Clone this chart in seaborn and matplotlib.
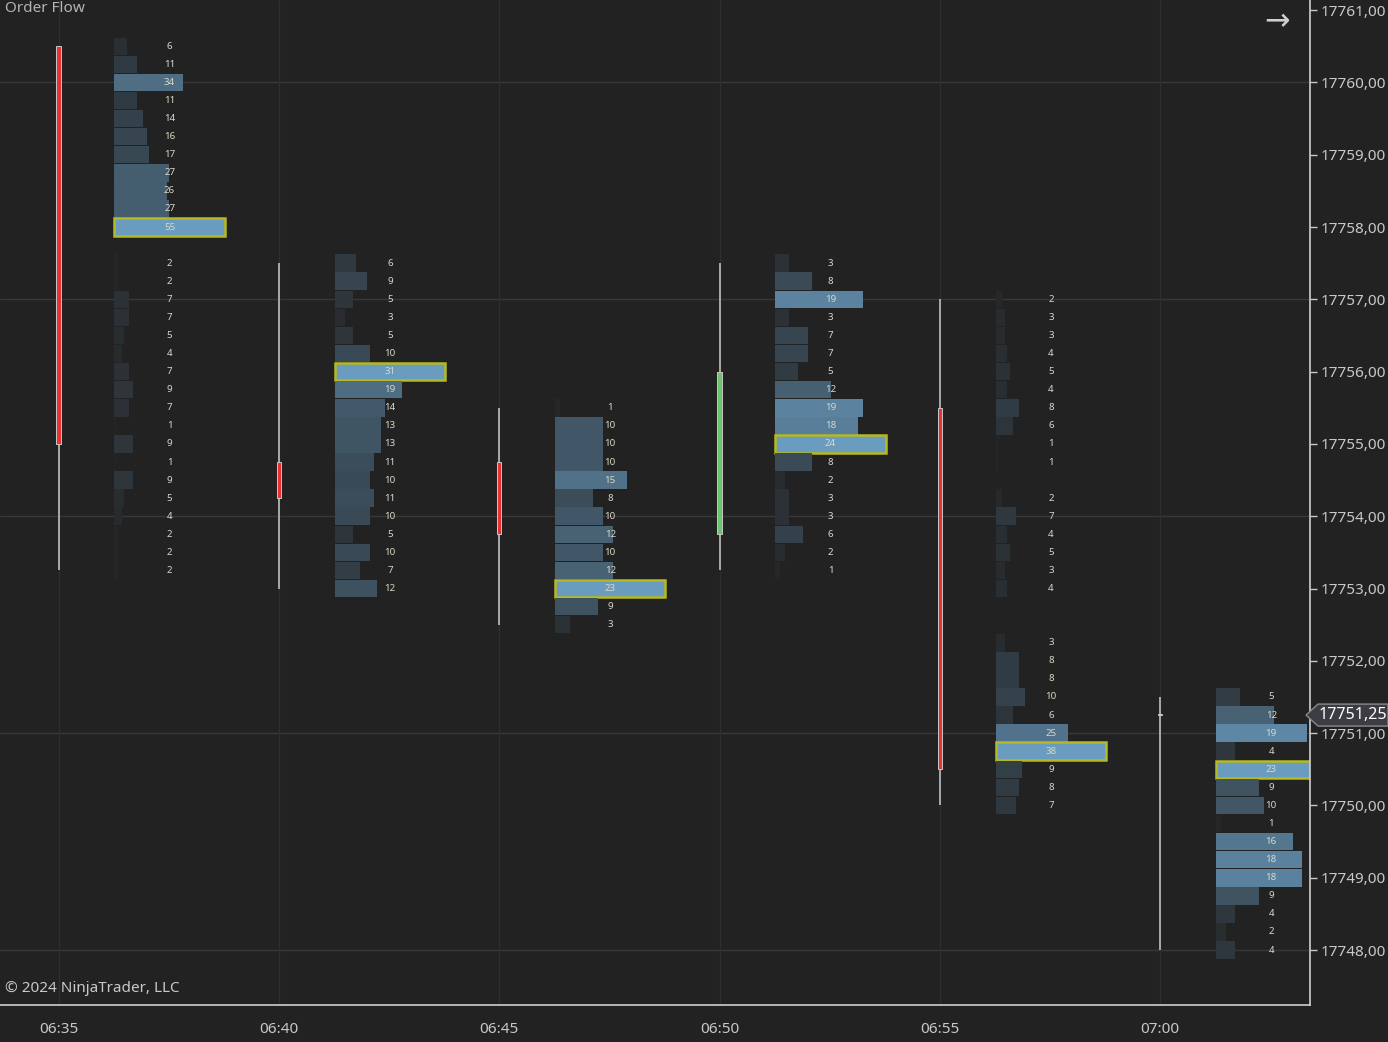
import numpy as np
import pandas as pd
import seaborn as sns
import matplotlib.pyplot as plt
import matplotlib.transforms as mtransforms
from matplotlib.patches import Polygon
from matplotlib.ticker import FixedLocator, FuncFormatter

# ---- data -------------------------------------------------------------
TICK = 0.25
bar_times = ["06:35", "06:40", "06:45", "06:50", "06:55", "07:00"]
opens = [17760.50, 17754.75, 17754.75, 17753.75, 17755.50, 17751.25]
highs = [17760.50, 17757.50, 17755.50, 17757.50, 17757.00, 17751.50]
lows = [17753.25, 17753.00, 17752.50, 17753.25, 17750.00, 17748.00]
closes = [17755.00, 17754.25, 17753.75, 17756.00, 17750.50, 17751.25]

# volume at price, listed from the top price of each bar downwards (0 = no trades)
profile_tops = [17760.50, 17757.50, 17755.50, 17757.50, 17757.00, 17751.50]
vol_0635 = [6, 11, 34, 11, 14, 16, 17, 27, 26, 27, 55, 0,
            2, 2, 7, 7, 5, 4, 7, 9, 7, 1, 9, 1, 9, 5, 4, 2, 2, 2]
vol_0640 = [6, 9, 5, 3, 5, 10, 31, 19, 14, 13, 13, 11, 10, 11, 10, 5, 10, 7, 12]
vol_0645 = [1, 10, 10, 10, 15, 8, 10, 12, 10, 12, 23, 9, 3]
vol_0650 = [3, 8, 19, 3, 7, 7, 5, 12, 19, 18, 24, 8, 2, 3, 3, 6, 2, 1]
vol_0655 = [2, 3, 3, 4, 5, 4, 8, 6, 1, 1, 0, 2, 7, 4, 5, 3, 4, 0, 0,
            3, 8, 8, 10, 6, 25, 38, 9, 8, 7]
vol_0700 = [5, 12, 19, 4, 23, 9, 10, 1, 16, 18, 18, 9, 4, 2, 4]
profiles = [vol_0635, vol_0640, vol_0645, vol_0650, vol_0655, vol_0700]

last_price = 17751.25
y_ticks = np.arange(17748, 17762, 1.0)
grid_levels = [17748, 17751, 17754, 17757, 17760]

# ---- tables ------------------------------------------------------------
minutes = [pd.to_timedelta(t + ":00").total_seconds() / 60 for t in bar_times]
bars = pd.DataFrame({"t": minutes, "open": opens, "high": highs,
                     "low": lows, "close": closes})
rows = []
for t, top, vols in zip(minutes, profile_tops, profiles):
    for i, v in enumerate(vols):
        if v > 0:
            rows.append({"t": t, "price": top - i * TICK, "volume": v})
prof = pd.DataFrame(rows)
prof["vmax"] = prof.groupby("t")["volume"].transform("max")
prof["ratio"] = prof["volume"] / prof["vmax"]

# ---- style -------------------------------------------------------------
BG = "#222222"
sns.set_theme(style="dark", rc={
    "figure.facecolor": BG, "axes.facecolor": BG, "axes.edgecolor": "#d0d0d0",
    "text.color": "#c8c8c8", "xtick.color": "#c8c8c8", "ytick.color": "#c8c8c8",
})
plt.rcParams["font.family"] = ["Noto Sans", "DejaVu Sans"]
vol_cmap = sns.blend_palette([BG, "#6a9cc0"], as_cmap=True)

OFFSET = 1.27      # profile starts this many minutes right of the candle
MAXW = 2.5         # width (minutes) of the largest level in each profile

fig = plt.figure(figsize=(13.88, 10.42), dpi=100)
ax = fig.add_axes([0, 0.0355, 1310 / 1388, 0.9645])
ax.set_xlim(minutes[0] - 1.328, minutes[0] + 28.40)
ax.set_ylim(17747.24, 17761.14)

# grid
for g in grid_levels:
    ax.axhline(g, color="#383838", lw=1, zorder=0)
for t in minutes:
    ax.axvline(t, color="#2e2e2e", lw=1, zorder=0)

# volume profiles
for _, r in prof.iterrows():
    poc = r["volume"] == r["vmax"]
    ax.barh(r["price"], r["ratio"] * MAXW, height=TICK * 0.97, left=r["t"] + OFFSET,
            color=vol_cmap(r["ratio"]), edgecolor="#b8b820" if poc else "none",
            linewidth=1.8 if poc else 0, zorder=2)
    ax.text(r["t"] + OFFSET + MAXW / 2, r["price"], f"{int(r['volume'])}",
            ha="center", va="center", fontsize=7, color="#d8d8c8", zorder=3)

# candles
ax.vlines(bars["t"], bars["low"], bars["high"], color="#b4b4b4", lw=1.3, zorder=3)
body_lo = bars[["open", "close"]].min(axis=1)
body_h = (bars["close"] - bars["open"]).abs().clip(lower=0.02)
body_col = np.where(bars["close"] > bars["open"], "#6cc46c", "#ec3030")
ax.bar(bars["t"], body_h, bottom=body_lo, width=0.1, color=body_col,
       edgecolor="#c8c8c8", linewidth=0.7, zorder=4)

# axes
for s in ["left", "top"]:
    ax.spines[s].set_visible(False)
for s in ["right", "bottom"]:
    ax.spines[s].set_color("#d0d0d0")
    ax.spines[s].set_linewidth(1.2)
ax.yaxis.tick_right()
ax.yaxis.set_major_locator(FixedLocator(y_ticks))
ax.yaxis.set_major_formatter(FuncFormatter(lambda v, p: f"{v:.2f}".replace(".", ",")))
ax.xaxis.set_major_locator(FixedLocator(minutes))
ax.xaxis.set_major_formatter(FuncFormatter(
    lambda v, p: f"{int(v // 60):02d}:{int(v % 60):02d}"))
ax.tick_params(axis="y", length=5, width=1, pad=3, labelsize=11, colors="#c8c8c8")
ax.tick_params(axis="x", length=5, width=1, pad=7, labelsize=11, colors="#c8c8c8")
ax.grid(False)

# last price tag
tr = mtransforms.blended_transform_factory(fig.transFigure, ax.transData)
hh = 11 / 72.31
x0, x1, x2 = 1306 / 1388, 1318 / 1388, 1.0
tag = Polygon([[x0, last_price], [x1, last_price + hh], [x2, last_price + hh],
               [x2, last_price - hh], [x1, last_price - hh]], closed=True,
              transform=tr, facecolor="#3c3c44", edgecolor="#8a8a8a", lw=1,
              clip_on=False, zorder=5)
ax.add_patch(tag)
ax.text(1353 / 1388, last_price, f"{last_price:.2f}".replace(".", ","), transform=tr,
        ha="center", va="center", fontsize=11.5, color="white", zorder=6)

# titles / labels
fig.text(5 / 1388, 1 - 8 / 1042, "Order Flow", ha="left", va="center",
         fontsize=11, color="#b4b4b4")
fig.text(5 / 1388, 1 - 989 / 1042, "© 2024 NinjaTrader, LLC", ha="left", va="center",
         fontsize=11, color="#c8c8c8")
fig.text(1277 / 1388, 1 - 22 / 1042, "→", ha="center", va="center",
         fontsize=22, color="#d0d0d0", family=["DejaVu Sans"])

fig.savefig("out.png", dpi=100, facecolor=BG)
